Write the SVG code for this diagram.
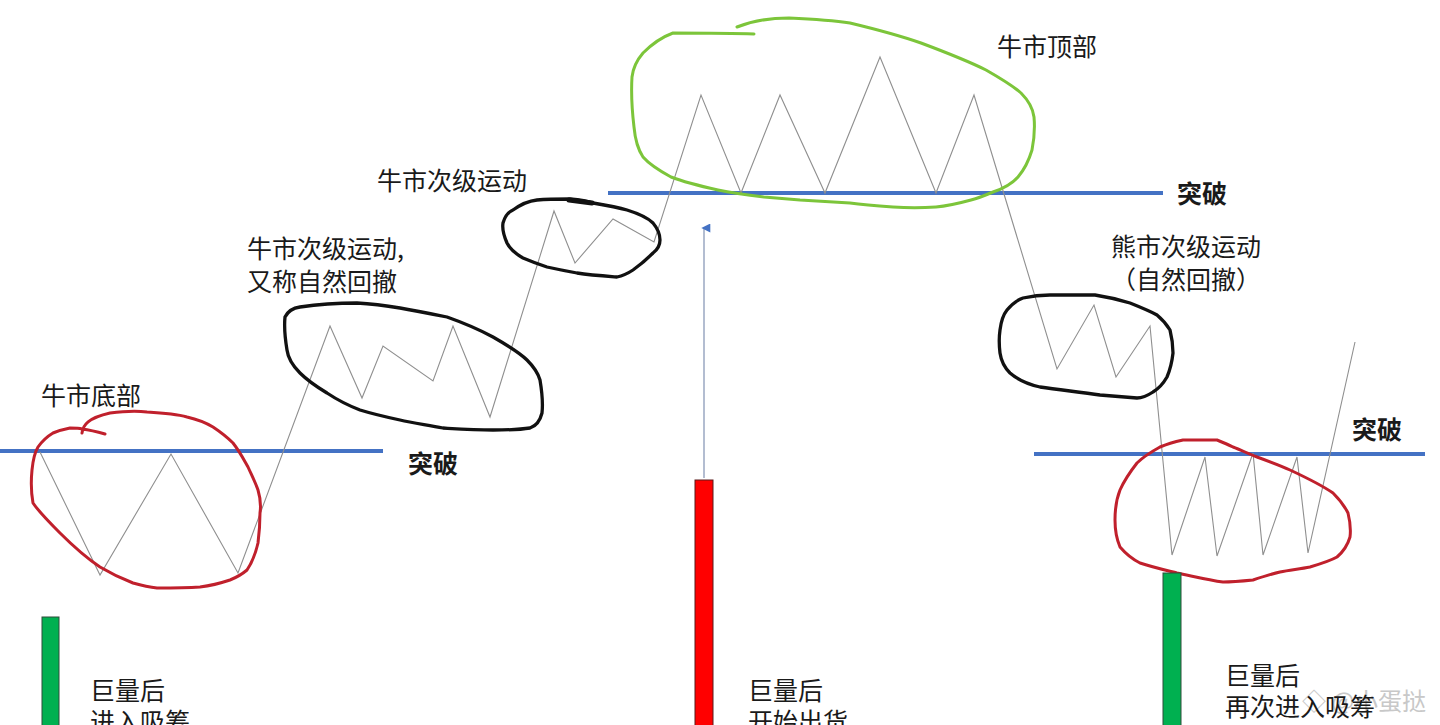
<svg xmlns="http://www.w3.org/2000/svg" width="1440" height="725" viewBox="0 0 1440 725">
<style>
.t{font-family:"Noto Sans CJK SC","Noto Sans",sans-serif;font-size:25px;fill:#1a1a1a}
.b{font-weight:bold}
.price{fill:none;stroke:#8f8f8f;stroke-width:1.1;stroke-linejoin:miter}
.lvl{stroke:#4472c4;stroke-width:4}
.loop{fill:none;stroke-width:3;stroke-linecap:round;stroke-linejoin:round}
.blk{stroke:#111;stroke-width:3.3}
.red{stroke:#c0202c}
.grn{stroke:#7cc53a}
.wm{font-family:"Noto Sans CJK SC","Noto Sans",sans-serif;font-size:24px;fill:#c8c8c8}
</style>
<defs>
<marker id="ah" viewBox="0 0 10 10" refX="5" refY="3" markerWidth="9" markerHeight="10" orient="auto-start-reverse" markerUnits="userSpaceOnUse">
<path d="M0,10 L5,0 L10,10 Z" fill="#4472c4"/>
</marker>
</defs>
<rect width="1440" height="725" fill="#ffffff"/>

<g id="levels">
<line class="lvl" x1="0" y1="451" x2="383" y2="451"/>
<line class="lvl" x1="608" y1="193" x2="1163" y2="193"/>
<line class="lvl" x1="1034" y1="454" x2="1425" y2="454"/>
</g>

<g id="connectors">
<polyline id="price-line" class="price" points="40,452 100,575 171,454 238,573 330,326 362,398 383,346 433,381 453,326 490,417 554,211 575,263 613,219 654,242 701,95 741,193 780,95 825,193 880,57 936,193 974,95 1057,369 1094,305 1116,377 1150,326 1172,555 1205,457 1217,556 1253,453 1263,555 1297,457 1308,553 1355,342"/>
<line id="sell-arrow" x1="704" y1="478" x2="704" y2="228" stroke="#8a9ab8" stroke-width="1.3" marker-end="url(#ah)"/>
</g>

<g id="bull-bottom-loop">
<path class="loop red" d="M82,433 C83,425 88,418 110,413 C125,411 140,411 147,412 C165,413 180,415 187,417 C200,420 208,424 213,427 C222,433 228,438 233,443 C240,452 244,460 248,467 C253,478 256,484 258,490 C261,500 261,506 260,513 C260,525 259,535 258,543 C255,556 251,564 247,570 C240,576 235,578 230,580 C218,584 208,586 200,587 C185,588 170,588 157,588 C147,587 140,585 133,583 C120,578 110,573 100,567 C85,557 72,545 60,533 C48,521 39,512 33,503 C31,492 31,480 32,470 C33,460 35,452 38,447 C43,440 48,436 53,433 C60,430 65,429 70,428 C76,428 79,428 82,429 C90,430 98,432 105,434"/>
</g>

<g id="bull-secondary-1-loop">
<path class="loop blk" d="M285,317 C288,311 293,308 300,307 C320,304 340,303 357,303 C375,304 388,306 400,308 C417,311 432,314 447,317 C464,323 480,330 493,337 C507,345 519,352 527,360 C534,367 538,373 540,380 C542,392 543,404 542,413 C540,421 536,426 530,428 C518,430 505,430 493,430 C475,430 460,429 443,428 C428,425 413,423 400,420 C386,417 373,414 360,410 C347,405 336,399 327,393 C317,387 307,380 300,373 C293,366 288,358 287,350 C285,338 284,327 285,317 Z"/>
</g>

<g id="bull-secondary-2-loop">
<path class="loop blk" d="M503,223 C505,216 508,212 513,210 C520,205 528,201 537,200 C548,199 560,199 570,199 C580,200 587,201 593,203 C605,205 617,207 627,210 C640,214 648,218 653,223 C658,229 660,234 660,240 C660,246 657,250 653,253 C647,259 640,265 633,270 C627,274 622,276 617,277 C604,276 590,275 577,273 C566,271 556,269 547,267 C538,264 530,261 523,258 C516,254 510,249 507,243 C504,236 502,229 503,223 Z"/>
<path d="M569,200 L592,203" stroke="#111" stroke-width="5" stroke-linecap="round" fill="none"/>
</g>

<g id="bull-top-loop">
<path class="loop grn" d="M737,27 C752,21 770,18 789,18 C810,19 830,20 850,23 C875,29 898,35 921,43 C945,52 966,60 986,70 C1000,78 1012,85 1021,93 C1029,101 1033,109 1034,117 C1035,128 1034,140 1032,150 C1029,160 1024,170 1018,177 C1011,185 1002,189 993,192 C986,195 979,198 971,200 C960,203 948,206 936,207 C922,208 907,208 893,207 C878,206 864,205 850,203 C833,202 816,201 800,200 C788,199 776,198 764,197 C748,195 733,193 718,190 C700,186 684,182 671,177 C660,171 650,165 643,157 C637,148 635,138 634,127 C632,110 631,93 632,77 C633,68 637,60 643,53 C652,44 662,37 673,33 C700,33 730,33 754,34"/>
</g>

<g id="bear-secondary-loop">
<path class="loop blk" d="M1000,330 C1001,322 1003,315 1007,310 C1012,304 1017,300 1023,298 C1032,296 1040,295 1050,295 C1065,295 1080,295 1095,295 C1108,297 1120,300 1130,303 C1140,307 1150,311 1157,315 C1163,320 1167,325 1170,330 C1172,338 1173,346 1173,353 C1172,362 1170,370 1167,377 C1163,384 1158,389 1153,392 C1147,396 1142,398 1137,398 C1125,397 1112,396 1100,395 C1080,392 1060,390 1040,387 C1027,384 1017,379 1010,373 C1004,367 1001,360 1000,353 C999,345 999,337 1000,330 Z"/>
</g>

<g id="bear-bottom-loop">
<path class="loop red" d="M1217,440 C1205,440 1194,440 1183,440 C1174,442 1167,444 1160,447 C1151,452 1143,457 1137,463 C1130,472 1124,481 1120,490 C1116,500 1115,510 1115,520 C1115,530 1117,540 1120,547 C1126,554 1132,559 1140,563 C1152,567 1165,570 1177,573 C1192,576 1208,580 1223,582 C1233,582 1243,581 1253,580 C1262,577 1271,574 1280,572 C1290,570 1300,569 1310,567 C1320,564 1330,561 1337,557 C1344,551 1348,544 1350,537 C1351,529 1350,521 1348,513 C1344,505 1339,499 1333,493 C1320,484 1305,477 1290,470 C1279,465 1268,461 1257,457 C1249,454 1241,450 1233,447 C1227,444 1222,442 1217,440 Z"/>
</g>

<g id="volume-bars">
<rect id="bar-left" x="42" y="617" width="17" height="110" fill="#00b050" stroke="#2e4d3a" stroke-width="1"/>
<rect id="bar-mid" x="695" y="480" width="18" height="247" fill="#ff0000" stroke="#5a1a1a" stroke-width="1"/>
<rect id="bar-right" x="1163" y="573" width="18" height="154" fill="#00b050" stroke="#2e4d3a" stroke-width="1"/>
</g>

<g id="labels">
<text class="t" x="41" y="405">牛市底部</text>
<text class="t b" x="408" y="473">突破</text>
<text class="t" x="247" y="258">牛市次级运动,</text>
<text class="t" x="247" y="291">又称自然回撤</text>
<text class="t" x="377" y="190">牛市次级运动</text>
<text class="t" x="997" y="56">牛市顶部</text>
<text class="t b" x="1177" y="203">突破</text>
<text class="t" x="1186" y="256" text-anchor="middle">熊市次级运动</text>
<text class="t" x="1186" y="289" text-anchor="middle">（自然回撤）</text>
<text class="t b" x="1352" y="439">突破</text>
<text class="t" x="90" y="700">巨量后</text>
<text class="t" x="90" y="731">进入吸筹</text>
<text class="t" x="748" y="700">巨量后</text>
<text class="t" x="748" y="731">开始出货</text>
<text class="wm" x="1302" y="710">◇ @小蛋挞</text>
<text class="t" x="1225" y="685">巨量后</text>
<text class="t" x="1225" y="716">再次进入吸筹</text>
</g>
</svg>
